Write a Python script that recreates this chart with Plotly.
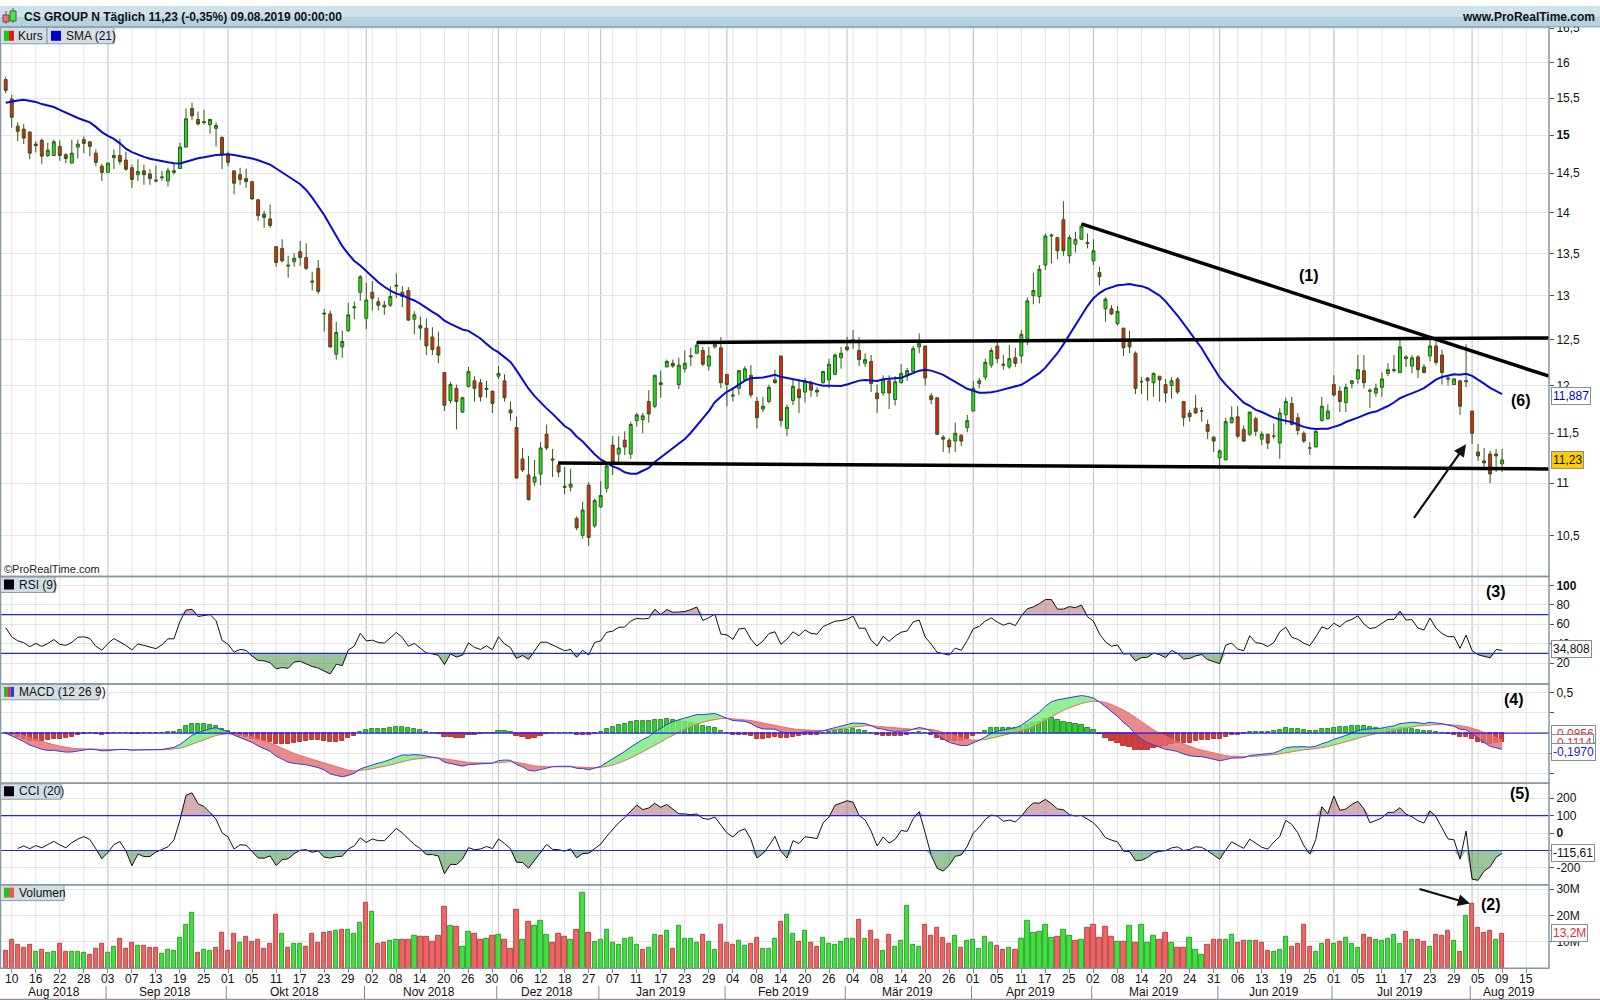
import numpy as np
import pandas as pd
import plotly.graph_objects as go
from plotly.subplots import make_subplots

W, H = 1600, 1000
def PX(x): return x / W
def PY(y): return 1 - y / H

# ---------------- data ----------------
holidays = ['2018-12-24', '2018-12-25', '2018-12-26', '2018-12-31', '2019-01-01', '2019-01-02',
            '2019-04-19', '2019-04-22', '2019-05-01', '2019-05-30', '2019-06-10', '2019-08-01']
dates = pd.bdate_range('2018-08-09', '2019-08-30', freq='C', holidays=holidays)  # dates[k] <-> index k-1

opens = [15.76, 15.49, 15.12, 15.08, 15.04, 14.88, 14.93, 14.73, 14.73, 14.85,
         14.74, 14.63, 14.84, 14.94, 14.91, 14.76, 14.59, 14.51, 14.70, 14.73,
         14.67, 14.57, 14.48, 14.53, 14.49, 14.41, 14.44, 14.40, 14.51, 14.56,
         14.84, 15.36, 15.21, 15.18, 15.14, 15.09, 14.97, 14.74, 14.53, 14.48,
         14.43, 14.39, 14.16, 13.98, 13.92, 13.58, 13.56, 13.36, 13.40, 13.52,
         13.45, 13.17, 13.32, 12.80, 12.79, 12.34, 12.42, 12.60, 12.86, 13.04,
         12.74, 13.04, 12.93, 12.89, 12.89, 13.11, 13.04, 13.06, 12.73, 12.66,
         12.63, 12.53, 12.42, 12.14, 11.84, 11.97, 11.72, 11.99, 12.05, 12.03,
         11.97, 11.94, 12.10, 12.05, 11.74, 11.56, 11.24, 11.08, 11.01, 11.09,
         11.49, 11.24, 11.18, 10.97, 10.96, 10.66, 10.50, 10.98, 10.59, 10.77,
         10.95, 11.38, 11.29, 11.43, 11.29, 11.63, 11.64, 11.83, 11.78, 12.03,
         12.20, 12.24, 12.01, 12.18, 12.31, 12.35, 12.38, 12.21, 12.42, 12.41,
         12.12, 11.90, 11.97, 12.06, 12.11, 11.83, 11.75, 11.83, 12.06, 12.32,
         11.55, 11.84, 11.96, 11.93, 12.03, 11.95, 12.03, 12.06, 12.12, 12.30,
         12.42, 12.50, 12.38, 12.24, 12.26, 11.92, 11.92, 12.05, 11.85, 12.03,
         12.12, 12.15, 12.42, 12.43, 11.89, 11.87, 11.46, 11.43, 11.42, 11.48,
         11.56, 11.73, 12.02, 12.09, 12.22, 12.43, 12.23, 12.20, 12.30, 12.32,
         12.51, 13.00, 12.99, 13.36, 13.71, 13.69, 13.91, 13.47, 13.61, 13.67,
         13.63, 13.41, 13.27, 12.85, 12.85, 12.68, 12.63, 12.50, 12.35, 12.04,
         12.08, 12.03, 12.10, 12.01, 12.00, 12.07, 11.83, 11.71, 11.76, 11.73,
         11.59, 11.46, 11.25, 11.23, 11.61, 11.67, 11.54, 11.49, 11.65, 11.44,
         11.49, 11.47, 11.40, 11.69, 11.81, 11.66, 11.50, 11.35, 11.36, 11.63,
         11.65, 12.01, 11.94, 11.82, 12.02, 12.07, 12.16, 11.95, 11.92, 11.98,
         12.13, 12.16, 12.14, 12.31, 12.21, 12.31, 12.20, 12.32, 12.43, 12.33,
         12.08, 12.01, 12.05, 12.04, 11.73, 11.31, 11.22, 11.29, 11.29, 11.19]

closes = [15.61, 15.24, 15.05, 14.96, 14.76, 14.86, 14.72, 14.80, 14.91, 14.73,
          14.69, 14.76, 14.88, 14.89, 14.85, 14.64, 14.51, 14.63, 14.73, 14.65,
          14.55, 14.42, 14.52, 14.48, 14.43, 14.40, 14.45, 14.53, 14.53, 14.84,
          15.22, 15.26, 15.15, 15.17, 15.21, 15.13, 14.75, 14.64, 14.37, 14.42,
          14.39, 14.17, 13.96, 13.94, 13.84, 13.39, 13.41, 13.35, 13.44, 13.45,
          13.32, 13.16, 13.05, 12.79, 12.42, 12.58, 12.48, 12.78, 12.87, 13.22,
          12.95, 12.97, 12.89, 12.87, 12.99, 13.12, 12.99, 12.72, 12.78, 12.63,
          12.43, 12.39, 12.33, 11.79, 12.01, 11.83, 11.87, 12.15, 11.97, 11.88,
          11.96, 11.81, 12.13, 11.87, 11.71, 11.05, 11.13, 10.84, 11.06, 11.35,
          11.35, 11.23, 11.11, 10.96, 10.99, 10.57, 10.74, 10.48, 10.83, 10.88,
          11.17, 11.21, 11.35, 11.36, 11.59, 11.69, 11.68, 11.70, 12.11, 12.01,
          12.26, 12.21, 12.22, 12.24, 12.32, 12.44, 12.23, 12.32, 12.45, 12.03,
          12.01, 11.89, 12.16, 12.18, 11.90, 11.66, 11.78, 11.98, 12.03, 11.63,
          11.77, 11.99, 11.87, 12.05, 11.95, 11.93, 12.15, 12.23, 12.33, 12.35,
          12.39, 12.49, 12.28, 12.28, 12.02, 11.86, 12.06, 11.92, 12.04, 12.13,
          12.16, 12.40, 12.46, 12.08, 11.85, 11.49, 11.44, 11.36, 11.50, 11.42,
          11.63, 11.97, 12.05, 12.25, 12.38, 12.29, 12.22, 12.29, 12.24, 12.56,
          12.94, 13.06, 13.31, 13.71, 13.72, 13.53, 13.53, 13.69, 13.67, 13.83,
          13.62, 13.53, 13.22, 12.96, 12.79, 12.82, 12.41, 12.42, 11.97, 12.04,
          12.05, 12.13, 12.06, 11.92, 12.05, 11.93, 11.66, 11.67, 11.71, 11.73,
          11.52, 11.42, 11.32, 11.62, 11.66, 11.47, 11.42, 11.72, 11.52, 11.49,
          11.40, 11.47, 11.71, 11.83, 11.59, 11.53, 11.42, 11.35, 11.52, 11.78,
          11.73, 11.90, 11.83, 11.98, 12.05, 12.17, 12.03, 11.94, 11.97, 12.07,
          12.17, 12.17, 12.42, 12.29, 12.30, 12.17, 12.14, 12.43, 12.25, 12.14,
          12.07, 12.07, 11.78, 12.05, 11.50, 11.27, 11.20, 11.09, 11.27, 11.23]

highs = [15.80, 15.55, 15.17, 15.15, 15.05, 14.92, 14.95, 14.90, 14.94, 14.93,
         14.76, 14.94, 14.94, 14.98, 14.92, 14.81, 14.62, 14.63, 14.81, 14.95,
         14.78, 14.61, 14.68, 14.61, 14.55, 14.60, 14.53, 14.57, 14.63, 14.90,
         15.36, 15.44, 15.32, 15.34, 15.22, 15.17, 14.98, 14.78, 14.53, 14.57,
         14.56, 14.40, 14.17, 14.02, 14.10, 13.58, 13.67, 13.47, 13.50, 13.65,
         13.62, 13.28, 13.42, 12.85, 12.83, 12.70, 12.60, 12.92, 12.93, 13.24,
         13.15, 13.17, 12.98, 12.94, 13.11, 13.26, 13.11, 13.10, 12.82, 12.76,
         12.74, 12.64, 12.59, 12.14, 12.04, 12.01, 11.88, 12.20, 12.10, 12.07,
         12.05, 11.94, 12.21, 12.12, 11.83, 11.67, 11.35, 11.27, 11.23, 11.41,
         11.59, 11.34, 11.21, 11.16, 11.14, 10.68, 10.82, 11.01, 10.85, 11.02,
         11.21, 11.47, 11.47, 11.52, 11.62, 11.71, 11.71, 11.95, 12.11, 12.16,
         12.28, 12.28, 12.30, 12.38, 12.41, 12.48, 12.42, 12.42, 12.46, 12.53,
         12.12, 11.98, 12.16, 12.21, 12.22, 11.88, 11.88, 12.01, 12.17, 12.32,
         11.80, 12.06, 12.07, 12.08, 12.05, 11.98, 12.16, 12.29, 12.35, 12.42,
         12.53, 12.61, 12.53, 12.35, 12.33, 12.01, 12.11, 12.11, 12.10, 12.23,
         12.19, 12.43, 12.57, 12.43, 11.92, 11.87, 11.48, 11.45, 11.61, 11.49,
         11.69, 12.05, 12.08, 12.29, 12.41, 12.50, 12.33, 12.44, 12.41, 12.61,
         12.98, 13.27, 13.36, 13.74, 13.74, 13.69, 14.14, 13.72, 13.76, 13.86,
         13.74, 13.67, 13.34, 12.98, 12.89, 12.88, 12.63, 12.60, 12.37, 12.09,
         12.09, 12.14, 12.10, 12.07, 12.09, 12.09, 11.83, 11.74, 11.90, 11.77,
         11.64, 11.47, 11.34, 11.66, 11.78, 11.78, 11.58, 11.72, 11.67, 11.52,
         11.49, 11.60, 11.76, 11.87, 11.88, 11.71, 11.52, 11.41, 11.54, 11.88,
         11.80, 12.11, 11.99, 12.02, 12.06, 12.33, 12.33, 11.97, 12.02, 12.14,
         12.24, 12.33, 12.51, 12.33, 12.33, 12.33, 12.23, 12.51, 12.48, 12.39,
         12.10, 12.08, 12.05, 12.45, 11.73, 11.39, 11.35, 11.32, 11.34, 11.34]

lows = [15.57, 15.10, 14.92, 14.88, 14.68, 14.77, 14.62, 14.71, 14.72, 14.66,
        14.63, 14.63, 14.69, 14.76, 14.72, 14.59, 14.40, 14.50, 14.55, 14.61,
        14.53, 14.31, 14.40, 14.35, 14.35, 14.38, 14.40, 14.33, 14.48, 14.56,
        14.84, 15.20, 15.13, 15.14, 15.02, 14.85, 14.55, 14.59, 14.23, 14.35,
        14.31, 14.16, 13.90, 13.81, 13.81, 13.34, 13.39, 13.21, 13.34, 13.35,
        13.30, 13.06, 13.02, 12.59, 12.41, 12.28, 12.30, 12.59, 12.73, 12.94,
        12.62, 12.83, 12.83, 12.78, 12.87, 12.97, 12.87, 12.71, 12.56, 12.50,
        12.33, 12.33, 12.24, 11.73, 11.81, 11.54, 11.71, 11.98, 11.83, 11.83,
        11.87, 11.71, 12.07, 11.83, 11.63, 11.04, 11.11, 10.83, 10.97, 10.98,
        11.33, 11.06, 11.06, 10.89, 10.92, 10.55, 10.47, 10.40, 10.57, 10.76,
        10.91, 11.08, 11.21, 11.28, 11.24, 11.57, 11.50, 11.61, 11.76, 11.87,
        12.20, 12.19, 11.96, 12.14, 12.21, 12.35, 12.21, 12.16, 12.40, 11.97,
        11.78, 11.83, 11.90, 12.06, 11.87, 11.55, 11.72, 11.81, 12.02, 11.57,
        11.47, 11.79, 11.71, 11.82, 11.88, 11.88, 12.02, 11.97, 12.11, 12.18,
        12.37, 12.40, 12.21, 12.20, 11.93, 11.71, 11.89, 11.75, 11.79, 12.02,
        12.05, 12.14, 12.35, 12.00, 11.80, 11.48, 11.31, 11.30, 11.31, 11.37,
        11.51, 11.73, 11.97, 12.06, 12.19, 12.24, 12.17, 12.18, 12.20, 12.24,
        12.44, 12.90, 12.91, 13.30, 13.38, 13.43, 13.47, 13.38, 13.51, 13.67,
        13.56, 13.36, 13.12, 12.70, 12.78, 12.66, 12.32, 12.35, 11.91, 11.91,
        11.84, 11.88, 11.83, 11.82, 11.86, 11.91, 11.57, 11.62, 11.70, 11.62,
        11.44, 11.31, 11.14, 11.23, 11.60, 11.45, 11.41, 11.47, 11.47, 11.38,
        11.34, 11.44, 11.24, 11.59, 11.58, 11.48, 11.40, 11.28, 11.36, 11.62,
        11.64, 11.88, 11.72, 11.72, 11.97, 12.02, 11.97, 11.76, 11.88, 11.88,
        12.10, 12.14, 12.13, 12.20, 12.13, 12.08, 12.13, 12.26, 12.22, 12.01,
        12.00, 12.01, 11.69, 11.98, 11.39, 11.22, 11.16, 11.00, 11.11, 11.11]

volumes_m = [6.7, 10.7, 8.8, 7.7, 8.8, 6.2, 7.2, 5.8, 6.2, 9.2,
             6.2, 6.2, 6.2, 5.8, 5.0, 7.3, 9.2, 5.8, 8.1, 11.1,
             7.3, 9.6, 8.4, 8.4, 7.7, 7.7, 5.4, 7.2, 6.5, 11.4,
             16.7, 20.9, 5.8, 7.2, 6.5, 7.7, 13.3, 6.5, 13.0, 9.6,
             11.8, 9.9, 10.7, 7.3, 9.2, 20.5, 13.0, 7.7, 9.2, 9.2,
             8.1, 13.0, 9.6, 13.3, 13.7, 14.1, 14.8, 14.8, 13.0, 17.1,
             25.0, 21.3, 9.2, 9.6, 10.3, 10.7, 10.7, 10.7, 12.2, 11.8,
             11.8, 9.9, 12.2, 23.5, 16.0, 15.6, 8.1, 13.7, 13.0, 10.7,
             11.1, 12.2, 12.6, 10.7, 7.3, 22.4, 10.7, 17.5, 16.0, 18.2,
             12.6, 9.6, 13.0, 11.8, 10.7, 14.8, 28.8, 13.3, 9.9, 10.7,
             14.8, 9.6, 8.8, 11.1, 11.4, 8.8, 6.9, 7.7, 12.6, 12.2,
             14.1, 7.3, 16.0, 11.1, 11.1, 9.6, 12.6, 9.9, 6.9, 16.7,
             9.6, 8.8, 10.3, 8.4, 9.2, 11.4, 7.3, 7.3, 11.1, 17.5,
             20.5, 13.0, 9.9, 14.1, 9.6, 8.1, 11.4, 9.2, 8.8, 9.9,
             11.1, 11.1, 18.6, 11.1, 14.1, 10.7, 6.5, 12.6, 8.1, 10.3,
             23.6, 8.8, 8.1, 16.4, 12.2, 15.2, 11.4, 9.2, 12.2, 7.7,
             10.3, 10.7, 7.3, 11.8, 9.6, 8.4, 6.9, 7.7, 6.9, 11.1,
             17.9, 13.3, 13.7, 16.4, 11.4, 12.0, 14.5, 12.2, 10.3, 10.7,
             15.2, 16.4, 11.4, 15.8, 11.8, 9.9, 9.9, 16.0, 9.6, 16.4,
             9.6, 12.2, 10.7, 13.3, 9.6, 7.7, 7.7, 11.4, 6.9, 5.0,
             8.8, 10.7, 10.7, 10.7, 12.8, 9.6, 10.3, 10.3, 10.3, 9.6,
             6.5, 6.2, 6.9, 11.8, 8.1, 9.2, 16.7, 8.1, 6.2, 9.2,
             10.7, 9.2, 9.9, 11.4, 9.2, 7.7, 12.8, 11.4, 10.7, 10.3,
             11.1, 12.8, 9.2, 13.7, 10.7, 10.7, 9.9, 8.1, 12.8, 12.5,
             14.3, 10.3, 6.2, 20.1, 24.5, 15.2, 13.3, 14.1, 10.7, 13.2]

# SMA(21) values for the first days (history before the window is not shown)
sma_start = [15.44, 15.46, 15.47, 15.48, 15.47, 15.45, 15.42, 15.40, 15.38, 15.34, 15.30,
             15.26, 15.23, 15.20, 15.17, 15.11, 15.04, 14.99, 14.95, 14.89, 14.82]
# RSI Wilder averages at the left edge (so RSI starts near 57 as on the chart)
rsi_seed_gain, rsi_seed_loss = 0.13, 0.10

# drawn lines (index, price)
line_support = [(90.9, 11.20), (255.8, 11.14)]
line_resist = [(114.0, 12.47), (255.8, 12.52)]
line_down = [(178.0, 13.86), (255.8, 12.10)]

month_names = {1: 'Jan', 2: 'Feb', 3: 'Mär', 4: 'Apr', 5: 'Mai', 6: 'Jun', 7: 'Jul',
               8: 'Aug', 9: 'Sep', 10: 'Okt', 11: 'Nov', 12: 'Dez'}

n = len(closes)
assert len(opens) == n and len(highs) == n and len(lows) == n and len(volumes_m) == n == 250
idx = np.arange(-1, n - 1)
XR = [-1.95, 255.8]

# ---------------- indicators ----------------
c = pd.Series(closes, dtype=float)
h = pd.Series(highs, dtype=float)
l = pd.Series(lows, dtype=float)
sma = c.rolling(21).mean().to_numpy()
sma[:len(sma_start)] = sma_start

cv = np.array(closes)
rsi = np.full(n, np.nan)
ag, al = rsi_seed_gain, rsi_seed_loss
rsi[0] = 100 - 100 / (1 + ag / al)
for k in range(1, n):
    dd = cv[k] - cv[k - 1]
    ag = (ag * 8 + max(dd, 0)) / 9
    al = (al * 8 + max(-dd, 0)) / 9
    rsi[k] = 100 - 100 / (1 + ag / al)

ema12 = c.ewm(span=12, adjust=False).mean()
ema26 = c.ewm(span=26, adjust=False).mean()
macd = (ema12 - ema26).to_numpy()
sig = pd.Series(macd).ewm(span=9, adjust=False).mean().to_numpy()
hist = macd - sig

tp = (h + l + c) / 3
tpm = tp.rolling(20, min_periods=3).mean()
tpd = tp.rolling(20, min_periods=3).apply(lambda x: np.mean(np.abs(x - x.mean())), raw=True)
cci = ((tp - tpm) / (0.015 * tpd)).to_numpy()

up = np.r_[False, cv[1:] >= cv[:-1]]

# ---------------- figure ----------------
fig = make_subplots(rows=5, cols=1, shared_xaxes=True, vertical_spacing=0)
PANELS = {1: (21, 574), 2: (574, 682), 3: (682, 782), 4: (782, 884), 5: (884, 968)}
XRIGHT = 1549

FONT = 'Liberation Sans, Arial, sans-serif'
NARROW = 'Liberation Sans Narrow, Arial Narrow, Liberation Sans, Arial, sans-serif'

# main
fig.add_trace(go.Candlestick(x=idx, open=opens, high=highs, low=lows, close=closes,
                             increasing=dict(line=dict(color='#2e5c14', width=1), fillcolor='#1fe01f'),
                             decreasing=dict(line=dict(color='#2e5c14', width=1), fillcolor='#ee1c1c'),
                             whiskerwidth=0, showlegend=False, hoverinfo='skip'), row=1, col=1)
fig.add_trace(go.Scatter(x=idx, y=sma, mode='lines', line=dict(color='#0a0ad2', width=2),
                         showlegend=False, hoverinfo='skip'), row=1, col=1)
for ln in (line_support, line_resist, line_down):
    fig.add_trace(go.Scatter(x=[p[0] for p in ln], y=[p[1] for p in ln], mode='lines',
                             line=dict(color='#000000', width=3.5), showlegend=False,
                             hoverinfo='skip', cliponaxis=True), row=1, col=1)

# RSI
def band_fill(row, yvals, level, above, color):
    arr = np.maximum(yvals, level) if above else np.minimum(yvals, level)
    fig.add_trace(go.Scatter(x=idx, y=np.full(n, level), mode='lines', line=dict(width=0),
                             showlegend=False, hoverinfo='skip'), row=row, col=1)
    fig.add_trace(go.Scatter(x=idx, y=arr, mode='lines', line=dict(width=0), fill='tonexty',
                             fillcolor=color, showlegend=False, hoverinfo='skip'), row=row, col=1)

RED_F = 'rgba(176,112,112,0.55)'
GRN_F = 'rgba(70,150,70,0.55)'
band_fill(2, rsi, 70, True, RED_F)
band_fill(2, rsi, 30, False, GRN_F)
fig.add_trace(go.Scatter(x=idx, y=rsi, mode='lines', line=dict(color='#111111', width=1),
                         showlegend=False, hoverinfo='skip'), row=2, col=1)

# MACD
fig.add_trace(go.Bar(x=idx, y=hist, width=0.7,
                     marker=dict(color=np.where(hist >= 0, '#2fcf2f', '#de3a3a'),
                                 line=dict(color=np.where(hist >= 0, '#1d7a1d', '#9a2222'), width=0.8)),
                     showlegend=False, hoverinfo='skip'), row=3, col=1)
fig.add_trace(go.Scatter(x=idx, y=sig, mode='lines', line=dict(width=0), showlegend=False,
                         hoverinfo='skip'), row=3, col=1)
fig.add_trace(go.Scatter(x=idx, y=np.maximum(macd, sig), mode='lines', line=dict(width=0),
                         fill='tonexty', fillcolor='rgba(120,235,120,0.8)', showlegend=False,
                         hoverinfo='skip'), row=3, col=1)
fig.add_trace(go.Scatter(x=idx, y=sig, mode='lines', line=dict(width=0), showlegend=False,
                         hoverinfo='skip'), row=3, col=1)
fig.add_trace(go.Scatter(x=idx, y=np.minimum(macd, sig), mode='lines', line=dict(width=0),
                         fill='tonexty', fillcolor='rgba(226,110,110,0.8)', showlegend=False,
                         hoverinfo='skip'), row=3, col=1)
fig.add_trace(go.Scatter(x=idx, y=sig, mode='lines', line=dict(color='#ee6a6a', width=1),
                         showlegend=False, hoverinfo='skip'), row=3, col=1)
fig.add_trace(go.Scatter(x=idx, y=macd, mode='lines', line=dict(color='#2a3cf0', width=1),
                         showlegend=False, hoverinfo='skip'), row=3, col=1)

# CCI
band_fill(4, cci, 100, True, RED_F)
band_fill(4, cci, -100, False, GRN_F)
fig.add_trace(go.Scatter(x=idx, y=cci, mode='lines', line=dict(color='#111111', width=1),
                         showlegend=False, hoverinfo='skip'), row=4, col=1)

# Volume
fig.add_trace(go.Bar(x=idx, y=volumes_m, width=0.72,
                     marker=dict(color=np.where(up, '#3ee23e', '#ef6464'),
                                 line=dict(color=np.where(up, '#1f8a1f', '#a83232'), width=0.8)),
                     showlegend=False, hoverinfo='skip'), row=5, col=1)

# ---------------- axes ----------------
tick_idx = list(range(0, 253, 4))
tick_txt = [dates[i + 1].strftime('%d') for i in tick_idx]

for r in range(1, 6):
    top, bot = PANELS[r]
    fig.update_xaxes(row=r, col=1, range=XR, domain=[0, XRIGHT / W], showgrid=False, zeroline=False,
                     tickvals=tick_idx, showticklabels=False,
                     ticks='outside' if r == 5 else '', ticklen=4, tickcolor='#7a8a95',
                     showline=False, fixedrange=True, rangeslider=dict(visible=False))
    fig.update_yaxes(row=r, col=1, domain=[PY(bot), PY(top)], side='right', showgrid=True,
                     gridcolor='#e3e3e3', gridwidth=1, zeroline=False, ticks='outside', ticklen=4,
                     tickcolor='#555', tickfont=dict(family=FONT, size=12, color='#111'),
                     showline=False, fixedrange=True)

def price_at(ypx): return 16 * np.exp(-(ypx - 57) / 1129)
pvals = [10.5 + 0.5 * k for k in range(13)]
ptext = [('<b>15</b>' if v == 15 else (f'{v:g}'.replace('.', ','))) for v in pvals]
fig.update_yaxes(row=1, col=1, type='log',
                 range=[np.log10(price_at(574)), np.log10(price_at(21))],
                 tickvals=pvals, ticktext=ptext)
def rsi_at(ypx): return (680.5 - ypx) / 0.975
fig.update_yaxes(row=2, col=1, range=[rsi_at(682), rsi_at(574)], tickvals=[20, 40, 60, 80, 100],
                 ticktext=['20', '40', '60', '80', '<b>100</b>'])
def macd_at(ypx): return (731.6 - ypx) / 81.6
fig.update_yaxes(row=3, col=1, range=[macd_at(782), macd_at(682)], tickvals=[-0.5, -0.25, 0.25, 0.5],
                 ticktext=['', '', '', '0,5'])
def cci_at(ypx): return (832 - ypx) / 0.1758
fig.update_yaxes(row=4, col=1, range=[cci_at(884), cci_at(782)], tickvals=[-200, -100, 0, 100, 200],
                 ticktext=['-200', '', '<b>0</b>', '100', '200'])
fig.update_yaxes(row=5, col=1, range=[0, 31.7], tickvals=[10, 20, 30], ticktext=['10M', '20M', '30M'])

shapes = []
annos = []

# day labels under the axis
for t, s in zip(tick_idx, tick_txt):
    annos.append(dict(xref='x5', yref='paper', x=t, y=PY(979), text=s, showarrow=False,
                      xanchor='center', yanchor='middle', font=dict(family=NARROW, size=12, color='#111')))

# vertical gridlines + month lines
month_first = []
for k in range(1, len(dates)):
    if dates[k].month != dates[k - 1].month:
        month_first.append(k - 1)
month_first = [m for m in month_first if XR[0] < m < XR[1]]
for t in tick_idx:
    if t in month_first:
        continue
    shapes.append(dict(type='line', xref='x', yref='paper', x0=t, x1=t, y0=PY(968), y1=PY(21),
                       line=dict(color='#e3e3e3', width=1), layer='below'))
for m in month_first:
    shapes.append(dict(type='line', xref='x', yref='paper', x0=m, x1=m, y0=PY(968), y1=PY(21),
                       line=dict(color='#c6c6c6', width=1.2), layer='below'))
    shapes.append(dict(type='line', xref='x', yref='paper', x0=m - 0.3, x1=m - 0.3, y0=PY(986), y1=PY(999),
                       line=dict(color='#7a8a95', width=1)))

# month labels
mons = {}
for k, dt in enumerate(dates):
    i = k - 1
    key = (dt.year, dt.month)
    mons.setdefault(key, [i, i])
    mons[key][1] = i
for (yy, mm), (a, b) in mons.items():
    lo, hi = max(a - 0.5, XR[0]), min(b + 0.5, XR[1])
    if hi <= lo:
        continue
    annos.append(dict(xref='x5', yref='paper', x=(lo + hi) / 2, y=PY(992), showarrow=False,
                      text=f'{month_names[mm]} {yy}', font=dict(family=NARROW, size=12, color='#111'),
                      xanchor='center', yanchor='middle'))

# blue reference lines
for yref, v in (('y2', 70), ('y2', 30), ('y3', 0), ('y4', 100), ('y4', -100)):
    shapes.append(dict(type='line', xref='x', yref=yref, x0=XR[0], x1=XR[1], y0=v, y1=v,
                       line=dict(color='#2222ee', width=1.2)))

# panel borders
for r, (top, bot) in PANELS.items():
    shapes.append(dict(type='rect', xref='paper', yref='paper', x0=PX(0.5), x1=PX(XRIGHT), y0=PY(bot), y1=PY(top),
                       line=dict(color='#8697a3', width=1.5)))
shapes.append(dict(type='line', xref='paper', yref='paper', x0=0, x1=1, y0=PY(999.5), y1=PY(999.5),
                   line=dict(color='#8697a3', width=1.5)))

# header
shapes.append(dict(type='rect', xref='paper', yref='paper', x0=0, x1=1, y0=PY(11), y1=1,
                   fillcolor='#cde2ec', line=dict(width=0)))
shapes.append(dict(type='rect', xref='paper', yref='paper', x0=0, x1=1, y0=PY(21), y1=PY(11),
                   fillcolor='#b5d2df', line=dict(width=0)))
shapes.append(dict(type='line', xref='paper', yref='paper', x0=0, x1=1, y0=PY(21), y1=PY(21),
                   line=dict(color='#7f99a8', width=1)))
# header icon
shapes.append(dict(type='line', xref='paper', yref='paper', x0=PX(6), x1=PX(6), y0=PY(18), y1=PY(5),
                   line=dict(color='#555', width=1)))
shapes.append(dict(type='rect', xref='paper', yref='paper', x0=PX(3), x1=PX(9), y0=PY(16), y1=PY(9),
                   fillcolor='#f07070', line=dict(color='#884444', width=1)))
shapes.append(dict(type='line', xref='paper', yref='paper', x0=PX(13), x1=PX(13), y0=PY(17), y1=PY(2),
                   line=dict(color='#2a6a2a', width=1)))
shapes.append(dict(type='rect', xref='paper', yref='paper', x0=PX(10), x1=PX(16), y0=PY(15), y1=PY(5),
                   fillcolor='#44ee44', line=dict(color='#2a6a2a', width=1)))
annos.append(dict(xref='paper', yref='paper', x=PX(22), y=PY(11), xanchor='left', yanchor='middle',
                  showarrow=False, text='<b>CS GROUP N Täglich 11,23 (-0,35%) 09.08.2019 00:00:00</b>',
                  font=dict(family=FONT, size=12, color='#111')))
annos.append(dict(xref='paper', yref='paper', x=PX(1597), y=PY(11), xanchor='right', yanchor='middle',
                  showarrow=False, text='<b>www.ProRealTime.com</b>',
                  font=dict(family=FONT, size=12, color='#111')))

# legend boxes
def box(x0, x1, y0, y1):
    shapes.append(dict(type='rect', xref='paper', yref='paper', x0=PX(x0), x1=PX(x1), y0=PY(y1), y1=PY(y0),
                       fillcolor='#d3dde3', line=dict(color='#8a9aa6', width=1)))
def sq(x0, y0, col, w=10, hgt=10):
    shapes.append(dict(type='rect', xref='paper', yref='paper', x0=PX(x0), x1=PX(x0 + w), y0=PY(y0 + hgt),
                       y1=PY(y0), fillcolor=col, line=dict(width=0)))
def label(x, y, txt):
    annos.append(dict(xref='paper', yref='paper', x=PX(x), y=PY(y), xanchor='left', yanchor='middle',
                      showarrow=False, text=txt, font=dict(family=FONT, size=12, color='#111')))

box(0.5, 47, 21.5, 38); sq(4, 25, '#11cc11', 5); sq(9, 25, '#ee1111', 5); label(16, 30, 'Kurs')
box(47, 114, 21.5, 38); sq(51, 25, '#0000cc'); label(64, 30, 'SMA (21)')
box(0.5, 55, 574.5, 590); sq(4, 577, '#000000'); label(17, 582, 'RSI (9)')
box(0.5, 99, 682.5, 698); sq(4, 685, '#22bb22', 3.3); sq(7.3, 685, '#dd3333', 3.3); sq(10.6, 685, '#3333dd', 3.4)
label(17, 690, 'MACD (12 26 9)')
box(0.5, 61, 782.5, 798); sq(4, 785, '#000000'); label(17, 790, 'CCI (20)')
box(0.5, 64, 884.5, 900); sq(4, 887, '#11cc11', 5); sq(9, 887, '#ee5555', 5); label(17, 892, 'Volumen')

annos.append(dict(xref='paper', yref='paper', x=PX(2), y=PY(566), xanchor='left', yanchor='middle',
                  showarrow=False, text='©ProRealTime.com', font=dict(family=NARROW, size=11, color='#222')))

# right-hand value boxes
def vbox(yref, y, txt, fg, bg):
    annos.append(dict(xref='paper', yref=yref, x=PX(1551), y=y, xanchor='left', yanchor='middle',
                      showarrow=False, text=txt, font=dict(family=FONT, size=12, color=fg),
                      bgcolor=bg, bordercolor='#7f8f99', borderwidth=1, borderpad=1))
vbox('y', np.log10(11.887), '11,887', '#0000cc', '#ffffff')
vbox('y', np.log10(11.23), '11,23', '#111111', '#ffcc00')
vbox('y2', 34.808, '34,808', '#111111', '#ffffff')
vbox('paper', PY(732.5), '-0,0856', '#e03030', '#ffffff')
vbox('paper', PY(741.5), '-0,1114', '#e03030', '#ffffff')
vbox('paper', PY(751), '-0,1970', '#1a1ad0', '#ffffff')
vbox('y4', -115.61, '-115,61', '#111111', '#ffffff')
vbox('y5', 13.2, '13,2M', '#e03030', '#ffffff')

# numbered notes
for txt, x, y in (('(1)', 1309, 271), ('(6)', 1521, 397), ('(3)', 1496, 589), ('(4)', 1514, 698),
                  ('(5)', 1520, 792), ('(2)', 1491, 904)):
    annos.append(dict(xref='paper', yref='paper', x=PX(x), y=PY(y), showarrow=False, text=f'<b>{txt}</b>',
                      font=dict(family=FONT, size=16, color='#000'), xanchor='center', yanchor='middle'))

# arrows
annos.append(dict(xref='paper', yref='paper', x=PX(1466), y=PY(441), ax=1413 - 1466, ay=516 - 441,
                  showarrow=True, arrowhead=2, arrowsize=1.1, arrowwidth=2.2, arrowcolor='#111', text=''))
annos.append(dict(xref='paper', yref='paper', x=PX(1470), y=PY(903), ax=1418 - 1470, ay=888 - 903,
                  showarrow=True, arrowhead=2, arrowsize=1.1, arrowwidth=2.2, arrowcolor='#111', text=''))

fig.update_layout(width=W, height=H, margin=dict(l=0, r=0, t=0, b=0),
                  paper_bgcolor='#ffffff', plot_bgcolor='rgba(0,0,0,0)',
                  shapes=shapes, annotations=annos, showlegend=False, bargap=0,
                  font=dict(family=FONT, size=12, color='#111'), hovermode=False)

fig.write_html('out.html')
